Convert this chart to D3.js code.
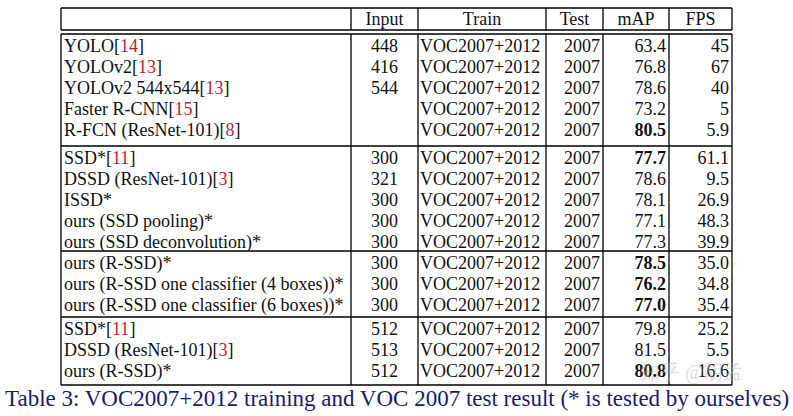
<!DOCTYPE html><html><head><meta charset="utf-8"><script src="https://cdn.jsdelivr.net/npm/d3@7"></script>
<style>body{margin:0;background:#fff}text{font-family:"Liberation Serif","DejaVu Serif",serif}</style></head><body><svg id="c" width="793" height="416"></svg>
<script>
const headers=["","Input","Train","Test","mAP","FPS"];
const methods=["YOLO","YOLOv2","YOLOv2 544x544","Faster R-CNN","R-FCN (ResNet-101)","SSD*","DSSD (ResNet-101)","ISSD*","ours (SSD pooling)*","ours (SSD deconvolution)*","ours (R-SSD)*","ours (R-SSD one classifier (4 boxes))*","ours (R-SSD one classifier (6 boxes))*","SSD*","DSSD (ResNet-101)","ours (R-SSD)*"];
const refs=["14","13","13","15","8","11","3","","","","","","","11","3",""];
const inputs=["448","416","544","","","300","321","300","300","300","300","300","300","512","513","512"];
const train=Array(16).fill("VOC2007+2012");
const test=Array(16).fill("2007");
const mAP=["63.4","76.8","78.6","73.2","80.5","77.7","78.6","78.1","77.1","77.3","78.5","76.2","77.0","79.8","81.5","80.8"];
const bold=[0,0,0,0,1,1,0,0,0,0,1,1,1,0,0,1];
const fps=["45","67","40","5","5.9","61.1","9.5","26.9","48.3","39.9","35.0","34.8","35.4","25.2","5.5","16.6"];
const groups=[5,5,3,3];
const caption="Table 3: VOC2007+2012 training and VOC 2007 test result (* is tested by ourselves)";

const svg=d3.select("#c");
const colX=[61,351,418,546,603,669,732];
const groupTop=[34,146,251,317];
let rowY=[];
groups.forEach((n,g)=>{for(let i=0;i<n;i++)rowY.push(groupTop[g]+12+21*i);});
const L=(x1,y1,x2,y2,w=1.3)=>svg.append("line").attr("x1",x1).attr("y1",y1).attr("x2",x2).attr("y2",y2).attr("stroke","#000").attr("stroke-width",w);
L(61,8,732,8);L(61,30,732,30);L(61,34,732,34);
[146,251,317].forEach(v=>L(61,v,732,v));L(61,385,732,385);
colX.forEach(x=>{L(x,8,x,30);L(x,34,x,385);});
const fs=18;
const T=(x,yy,s,anchor,w)=>svg.append("text").attr("x",x).attr("y",yy).attr("dy","0.35em").attr("font-size",fs).attr("text-anchor",anchor).attr("font-weight",w||"normal").attr("fill","#111").text(s);
headers.forEach((h,i)=>{if(i)T((colX[i]+colX[i+1])/2,19,h,"middle");});
rowY.forEach((yy,i)=>{
  const t=svg.append("text").attr("x",64).attr("y",yy).attr("dy","0.35em").attr("font-size",fs).attr("fill","#111");
  t.append("tspan").text(methods[i]);
  if(refs[i]){t.append("tspan").text("[");t.append("tspan").attr("fill","#c4202e").text(refs[i]);t.append("tspan").text("]");}
  T(398,yy,inputs[i],"end");
  T(420,yy,train[i],"start");
  T(600,yy,test[i],"end");
  T(666,yy,mAP[i],"end",bold[i]?"bold":"normal");
  T(729,yy,fps[i],"end");
});
svg.append("text").attr("x",5).attr("y",398).attr("dy","0.35em").attr("font-size",23).attr("fill","#1a1a6e").text(caption);
svg.append("text").attr("x",640).attr("y",372).attr("dy","0.35em").attr("font-size",20).attr("fill","#bbb").attr("opacity",0.5).attr("font-family","Noto Sans CJK SC").text("知乎 @胡孟");
</script></body></html>
